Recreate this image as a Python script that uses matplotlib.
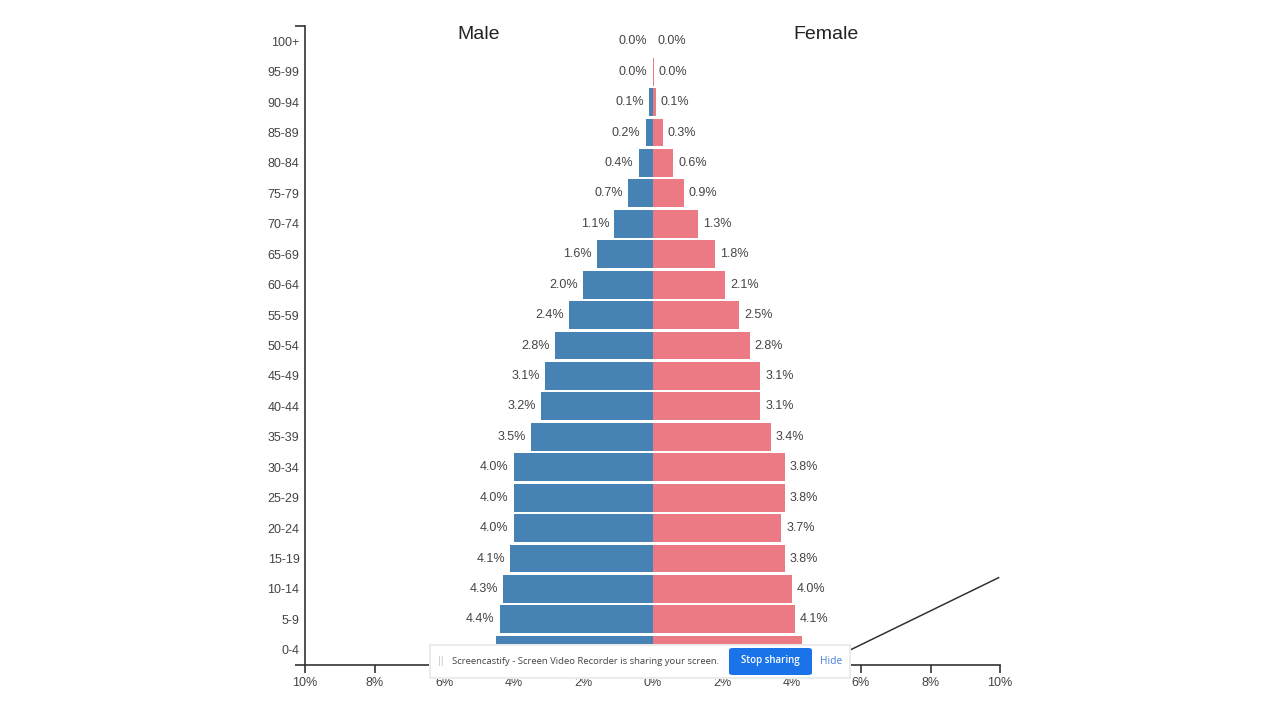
import matplotlib.pyplot as plt
from matplotlib.patches import FancyBboxPatch
import numpy as np

plt.rcParams['font.family'] = ['Liberation Sans', 'DejaVu Sans']

# age groups, bottom to top
ages = ['0-4', '5-9', '10-14', '15-19', '20-24', '25-29', '30-34', '35-39',
        '40-44', '45-49', '50-54', '55-59', '60-64', '65-69', '70-74',
        '75-79', '80-84', '85-89', '90-94', '95-99', '100+']
male = [4.5, 4.4, 4.3, 4.1, 4.0, 4.0, 4.0, 3.5, 3.2, 3.1, 2.8, 2.4, 2.0,
        1.6, 1.1, 0.7, 0.4, 0.2, 0.1, 0.0, 0.0]
female = [4.3, 4.1, 4.0, 3.8, 3.7, 3.8, 3.8, 3.4, 3.1, 3.1, 2.8, 2.5, 2.1,
          1.8, 1.3, 0.9, 0.6, 0.3, 0.1, 0.04, 0.0]
xticks = [-10, -8, -6, -4, -2, 0, 2, 4, 6, 8, 10]

blue = '#4682b4'
pink = '#ec7a85'
txt = '#444444'

fig = plt.figure(figsize=(12.8, 7.2), dpi=100)
fig.patch.set_facecolor('white')
ax = fig.add_axes([305/1280, 1-665/720, 695/1280, 639/720])

y = np.arange(len(ages))
ax.barh(y, -np.array(male), height=0.92, color=blue, edgecolor='none')
ax.barh(y, female, height=0.92, color=pink, edgecolor='none')

for i in range(len(ages)):
    ax.annotate('{:.1f}%'.format(male[i]), (-male[i], i), xytext=(-5, 0),
                textcoords='offset pixels', ha='right', va='center',
                fontsize=9, color=txt)
    ax.annotate('{:.1f}%'.format(female[i]), (female[i], i), xytext=(5, 0),
                textcoords='offset pixels', ha='left', va='center',
                fontsize=9, color=txt)

ax.set_xlim(-10, 10)
ax.set_ylim(-0.5, len(ages) - 0.5)
ax.set_yticks(y)
ax.set_yticklabels(ages)
ax.set_yticks([-0.5, len(ages) - 0.5], minor=True)
ax.tick_params(axis='y', which='major', length=0, pad=4, labelsize=9, labelcolor=txt)
ax.tick_params(axis='y', which='minor', length=7, width=1.2, color='#333333')
ax.set_xticks(xticks)
ax.set_xticklabels(['{}%'.format(abs(v)) for v in xticks])
ax.tick_params(axis='x', length=6, width=1.2, color='#333333', pad=3,
               labelsize=9, labelcolor=txt)
for s in ['top', 'right']:
    ax.spines[s].set_visible(False)
for s in ['left', 'bottom']:
    ax.spines[s].set_color('#333333')
    ax.spines[s].set_linewidth(1.2)

ax.text(-5, 1.0, 'Male', transform=ax.get_xaxis_transform(), ha='center',
        va='top', fontsize=14, color='#222222')
ax.text(5, 1.0, 'Female', transform=ax.get_xaxis_transform(), ha='center',
        va='top', fontsize=14, color='#222222')

# stray line
ax.plot([5.7, 9.96], [0.0, 2.37], color='#333333', lw=1.1, clip_on=False)

# screen recorder overlay
def fx(px):
    return px / 1280

def fy(py):
    return 1 - py / 720

shadow = FancyBboxPatch((fx(429), fy(679)), fx(422), 35/720,
                        boxstyle='square,pad=0', transform=fig.transFigure,
                        facecolor='#ebebeb', edgecolor='none', zorder=10)
box = FancyBboxPatch((fx(431), fy(677)), fx(418), 31/720,
                     boxstyle='square,pad=0', transform=fig.transFigure,
                     facecolor='white', edgecolor='none', zorder=11)
btn = FancyBboxPatch((fx(729), fy(675)), fx(83), 27/720,
                     boxstyle='round,pad=0,rounding_size=0.003',
                     transform=fig.transFigure, facecolor='#1a73e8',
                     edgecolor='none', zorder=12)
fig.add_artist(shadow)
fig.add_artist(box)
fig.add_artist(btn)
fig.text(fx(441), fy(661), '||', fontsize=8, color='#cccccc', va='center',
         ha='center', zorder=13)
fig.text(fx(452), fy(661), 'Screencastify - Screen Video Recorder is sharing your screen.',
         fontsize=6.8, color='#444444', va='center', ha='left', zorder=13,
         family=['Open Sans', 'DejaVu Sans'])
fig.text(fx(770), fy(661), 'Stop sharing', fontsize=7, color='white',
         va='center', ha='center', zorder=13, fontweight='semibold',
         family=['Open Sans', 'DejaVu Sans'])
fig.text(fx(831), fy(661), 'Hide', fontsize=7.4, color='#4a7fd8',
         va='center', ha='center', zorder=13, family=['Open Sans', 'DejaVu Sans'])

fig.savefig('out.png', dpi=100, facecolor='white')
